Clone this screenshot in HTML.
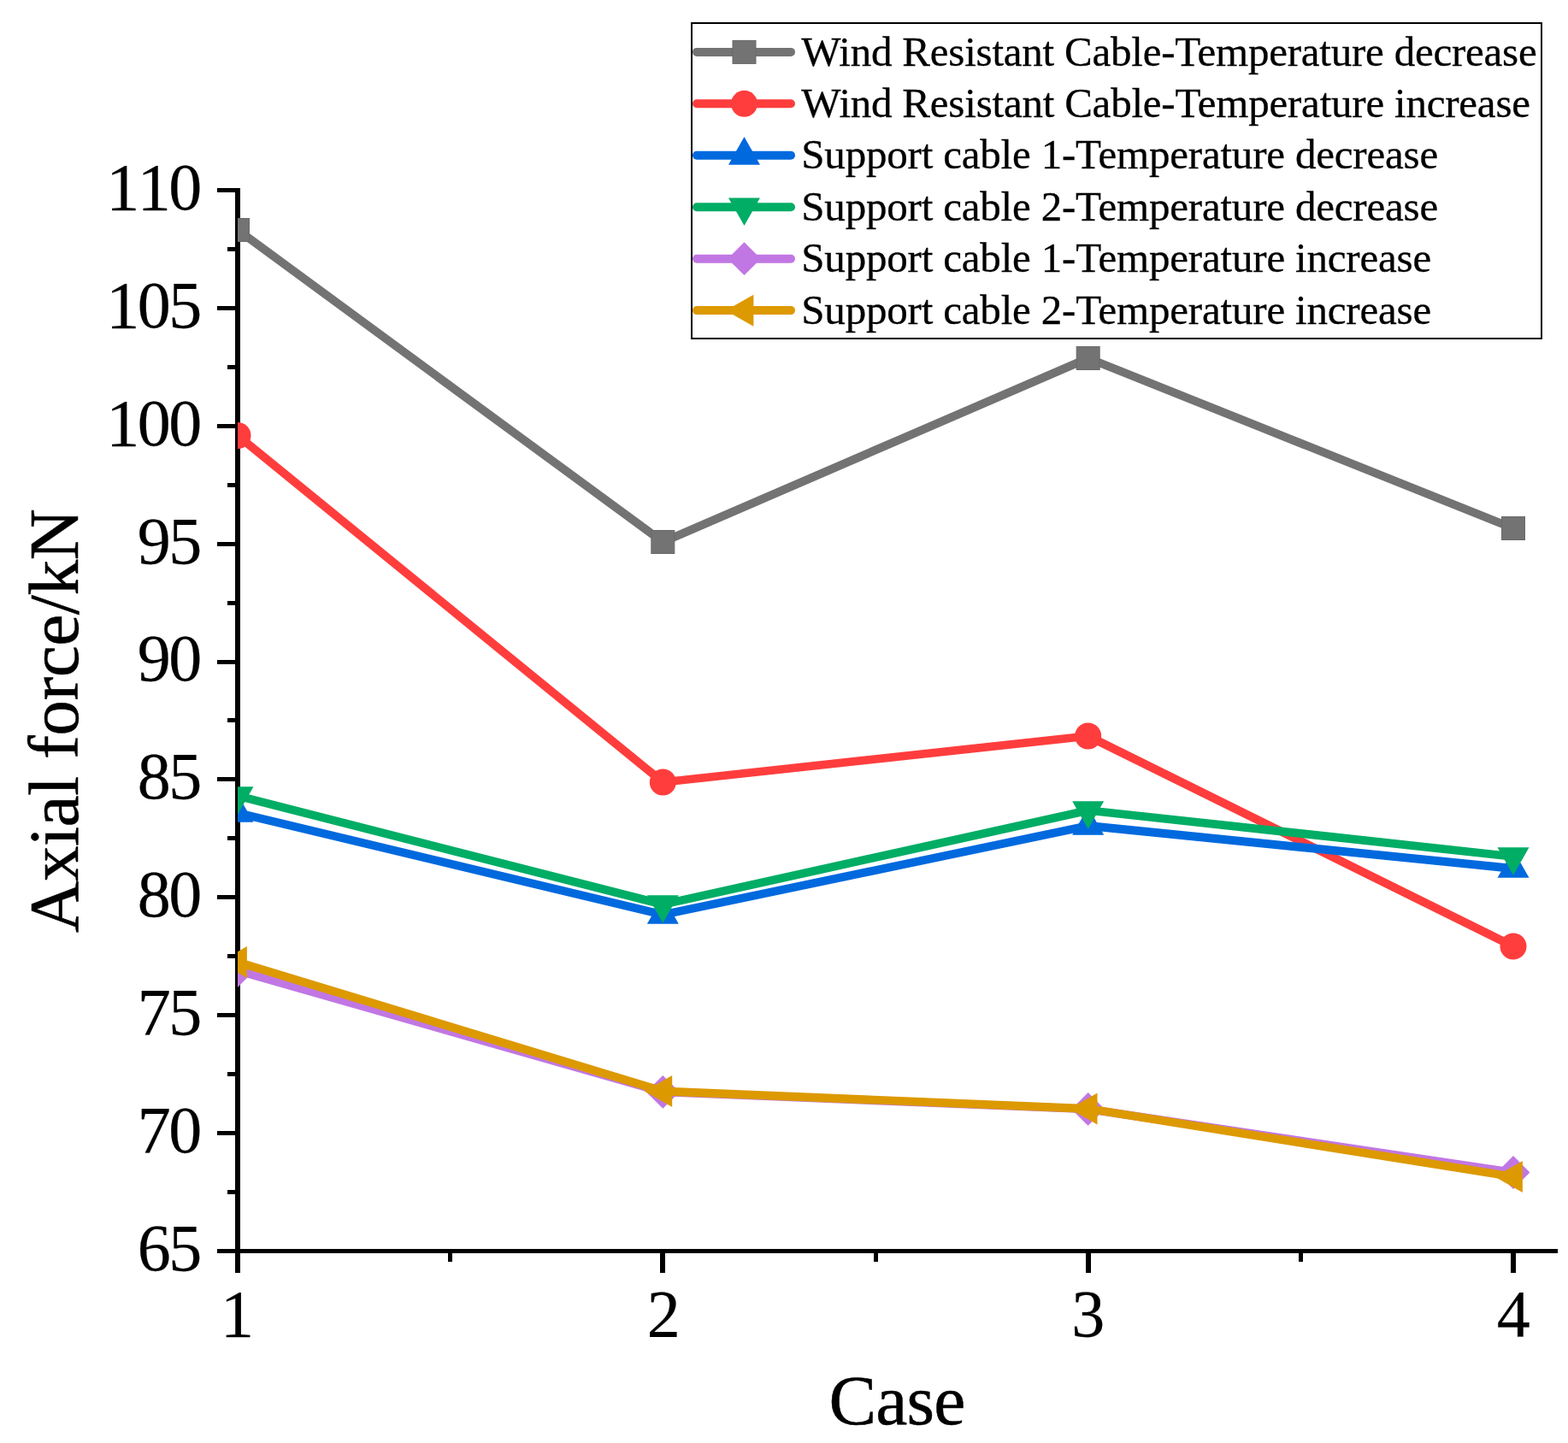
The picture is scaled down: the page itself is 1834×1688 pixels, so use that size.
<!DOCTYPE html>
<html><head><meta charset="utf-8"><title>Axial force chart</title>
<style>html,body{margin:0;padding:0;background:#fff;overflow:hidden;}svg{display:block;}</style>
</head><body>
<svg width="1834" height="1688" viewBox="0 0 1834 1688">
<rect x="0" y="0" width="1834" height="1688" fill="#fff"/>
<defs><clipPath id="plot"><rect x="278" y="200" width="1544" height="1263.5"/></clipPath></defs>

<g fill="#000">
<rect x="275" y="220" width="6" height="1269"/>
<rect x="275" y="1461" width="1547" height="5"/>
<rect x="254" y="220" width="21" height="5"/>
<rect x="254" y="358" width="21" height="5"/>
<rect x="254" y="496" width="21" height="5"/>
<rect x="254" y="634" width="21" height="5"/>
<rect x="254" y="772" width="21" height="5"/>
<rect x="254" y="909" width="21" height="5"/>
<rect x="254" y="1047" width="21" height="5"/>
<rect x="254" y="1185" width="21" height="5"/>
<rect x="254" y="1323" width="21" height="5"/>
<rect x="254" y="1461" width="21" height="5"/>
<rect x="266" y="289" width="9" height="5"/>
<rect x="266" y="427" width="9" height="5"/>
<rect x="266" y="565" width="9" height="5"/>
<rect x="266" y="703" width="9" height="5"/>
<rect x="266" y="840" width="9" height="5"/>
<rect x="266" y="978" width="9" height="5"/>
<rect x="266" y="1116" width="9" height="5"/>
<rect x="266" y="1254" width="9" height="5"/>
<rect x="266" y="1392" width="9" height="5"/>
<rect x="275" y="1466" width="6" height="23"/>
<rect x="772" y="1466" width="6" height="23"/>
<rect x="1270" y="1466" width="6" height="23"/>
<rect x="1767" y="1466" width="6" height="23"/>
<rect x="524" y="1466" width="5" height="10"/>
<rect x="1022" y="1466" width="5" height="10"/>
<rect x="1519" y="1466" width="5" height="10"/>
</g>
<g clip-path="url(#plot)">
<polyline points="278.00,269.00 775.33,634.00 1272.67,419.00 1770.00,618.00" fill="none" stroke="#737373" stroke-width="9.8" stroke-linejoin="round" stroke-linecap="round"/>
<rect x="264.50" y="255.50" width="27.0" height="27.0" fill="#737373" stroke="#6A6A6A" stroke-width="1"/>
<rect x="761.83" y="620.50" width="27.0" height="27.0" fill="#737373" stroke="#6A6A6A" stroke-width="1"/>
<rect x="1259.17" y="405.50" width="27.0" height="27.0" fill="#737373" stroke="#6A6A6A" stroke-width="1"/>
<rect x="1756.50" y="604.50" width="27.0" height="27.0" fill="#737373" stroke="#6A6A6A" stroke-width="1"/>
<polyline points="278.00,509.50 775.33,915.00 1272.67,861.00 1770.00,1107.00" fill="none" stroke="#FF3D3D" stroke-width="9.8" stroke-linejoin="round" stroke-linecap="round"/>
<circle cx="278.00" cy="509.50" r="15.5" fill="#FF3D3D"/>
<circle cx="775.33" cy="915.00" r="15.5" fill="#FF3D3D"/>
<circle cx="1272.67" cy="861.00" r="15.5" fill="#FF3D3D"/>
<circle cx="1770.00" cy="1107.00" r="15.5" fill="#FF3D3D"/>
<polyline points="278.00,951.00 775.33,1070.00 1272.67,966.00 1770.00,1016.00" fill="none" stroke="#0069DE" stroke-width="9.8" stroke-linejoin="round" stroke-linecap="round"/>
<polygon points="278.00,929.27 259.50,961.87 296.50,961.87" fill="#0069DE"/>
<polygon points="775.33,1048.27 756.83,1080.87 793.83,1080.87" fill="#0069DE"/>
<polygon points="1272.67,944.27 1254.17,976.87 1291.17,976.87" fill="#0069DE"/>
<polygon points="1770.00,994.27 1751.50,1026.87 1788.50,1026.87" fill="#0069DE"/>
<polyline points="278.00,931.00 775.33,1058.00 1272.67,948.00 1770.00,1002.00" fill="none" stroke="#00AD65" stroke-width="9.8" stroke-linejoin="round" stroke-linecap="round"/>
<polygon points="278.00,952.73 259.50,920.13 296.50,920.13" fill="#00AD65"/>
<polygon points="775.33,1079.73 756.83,1047.13 793.83,1047.13" fill="#00AD65"/>
<polygon points="1272.67,969.73 1254.17,937.13 1291.17,937.13" fill="#00AD65"/>
<polygon points="1770.00,1023.73 1751.50,991.13 1788.50,991.13" fill="#00AD65"/>
<polyline points="278.00,1135.50 775.33,1277.40 1272.67,1297.40 1770.00,1371.50" fill="none" stroke="#C177E3" stroke-width="9.8" stroke-linejoin="round" stroke-linecap="round"/>
<polygon points="278.00,1116.10 297.40,1135.50 278.00,1154.90 258.60,1135.50" fill="#C177E3"/>
<polygon points="775.33,1258.00 794.73,1277.40 775.33,1296.80 755.93,1277.40" fill="#C177E3"/>
<polygon points="1272.67,1278.00 1292.07,1297.40 1272.67,1316.80 1253.27,1297.40" fill="#C177E3"/>
<polygon points="1770.00,1352.10 1789.40,1371.50 1770.00,1390.90 1750.60,1371.50" fill="#C177E3"/>
<polyline points="278.00,1125.50 775.33,1276.50 1272.67,1297.00 1770.00,1376.50" fill="none" stroke="#DD9900" stroke-width="9.8" stroke-linejoin="round" stroke-linecap="round"/>
<polygon points="256.27,1125.50 288.87,1107.00 288.87,1144.00" fill="#DD9900"/>
<polygon points="753.60,1276.50 786.20,1258.00 786.20,1295.00" fill="#DD9900"/>
<polygon points="1250.93,1297.00 1283.53,1278.50 1283.53,1315.50" fill="#DD9900"/>
<polygon points="1748.27,1376.50 1780.87,1358.00 1780.87,1395.00" fill="#DD9900"/>
</g>
<g font-family="'Liberation Serif', 'Times New Roman', serif" font-size="78" fill="#000" stroke="#000" stroke-width="0.25">
<text x="124.17 160.67 197.17" y="244.90">110</text>
<text x="124.25 160.75 197.25" y="382.79">105</text>
<text x="124.17 160.67 197.17" y="520.68">100</text>
<text x="160.75 197.25" y="658.57">95</text>
<text x="160.67 197.17" y="796.46">90</text>
<text x="160.75 197.25" y="934.34">85</text>
<text x="160.67 197.17" y="1072.23">80</text>
<text x="160.75 197.25" y="1210.12">75</text>
<text x="160.67 197.17" y="1348.01">70</text>
<text x="160.75 197.25" y="1485.90">65</text>
<text x="257.91" y="1563.2">1</text>
<text x="756.77" y="1563.2">2</text>
<text x="1253.32" y="1563.2">3</text>
<text x="1750.85" y="1563.2">4</text>
</g>
<text x="969.5" y="1666" font-family="'Liberation Serif', 'Times New Roman', serif" font-size="83.5" textLength="159.7" lengthAdjust="spacing" fill="#000" stroke="#000" stroke-width="0.5">Case</text>
<text transform="translate(91,1090.2) rotate(-90)" x="-0.8" y="0" font-family="'Liberation Serif', 'Times New Roman', serif" font-size="83.5" textLength="495.9" lengthAdjust="spacing" fill="#000" stroke="#000" stroke-width="0.5">Axial force/kN</text>
<rect x="809" y="27" width="994" height="369" fill="none" stroke="#000" stroke-width="2"/>
<line x1="815" y1="60.9" x2="925" y2="60.9" stroke="#737373" stroke-width="10" stroke-linecap="round"/>
<rect x="857.00" y="47.40" width="27.0" height="27.0" fill="#737373" stroke="#6A6A6A" stroke-width="1"/>
<text x="937.3" y="76.5" font-family="'Liberation Serif', 'Times New Roman', serif" font-size="49" textLength="860.4" lengthAdjust="spacing" fill="#000" stroke="#000" stroke-width="0.3">Wind Resistant Cable-Temperature decrease</text>
<line x1="815" y1="121.3" x2="925" y2="121.3" stroke="#FF3D3D" stroke-width="10" stroke-linecap="round"/>
<circle cx="870.50" cy="121.35" r="15.5" fill="#FF3D3D"/>
<text x="937.3" y="136.9" font-family="'Liberation Serif', 'Times New Roman', serif" font-size="49" textLength="852.7" lengthAdjust="spacing" fill="#000" stroke="#000" stroke-width="0.3">Wind Resistant Cable-Temperature increase</text>
<line x1="815" y1="181.8" x2="925" y2="181.8" stroke="#0069DE" stroke-width="10" stroke-linecap="round"/>
<polygon points="870.50,160.07 852.00,192.67 889.00,192.67" fill="#0069DE"/>
<text x="937.3" y="197.4" font-family="'Liberation Serif', 'Times New Roman', serif" font-size="49" textLength="744.9" lengthAdjust="spacing" fill="#000" stroke="#000" stroke-width="0.3">Support cable 1-Temperature decrease</text>
<line x1="815" y1="242.3" x2="925" y2="242.3" stroke="#00AD65" stroke-width="10" stroke-linecap="round"/>
<polygon points="870.50,263.98 852.00,231.38 889.00,231.38" fill="#00AD65"/>
<text x="937.3" y="257.9" font-family="'Liberation Serif', 'Times New Roman', serif" font-size="49" textLength="744.9" lengthAdjust="spacing" fill="#000" stroke="#000" stroke-width="0.3">Support cable 2-Temperature decrease</text>
<line x1="815" y1="302.7" x2="925" y2="302.7" stroke="#C177E3" stroke-width="10" stroke-linecap="round"/>
<polygon points="870.50,283.30 889.90,302.70 870.50,322.10 851.10,302.70" fill="#C177E3"/>
<text x="937.3" y="318.3" font-family="'Liberation Serif', 'Times New Roman', serif" font-size="49" textLength="736.9" lengthAdjust="spacing" fill="#000" stroke="#000" stroke-width="0.3">Support cable 1-Temperature increase</text>
<line x1="815" y1="363.1" x2="925" y2="363.1" stroke="#DD9900" stroke-width="10" stroke-linecap="round"/>
<polygon points="848.77,363.15 881.37,344.65 881.37,381.65" fill="#DD9900"/>
<text x="937.3" y="378.8" font-family="'Liberation Serif', 'Times New Roman', serif" font-size="49" textLength="736.9" lengthAdjust="spacing" fill="#000" stroke="#000" stroke-width="0.3">Support cable 2-Temperature increase</text>
</svg>
</body></html>
